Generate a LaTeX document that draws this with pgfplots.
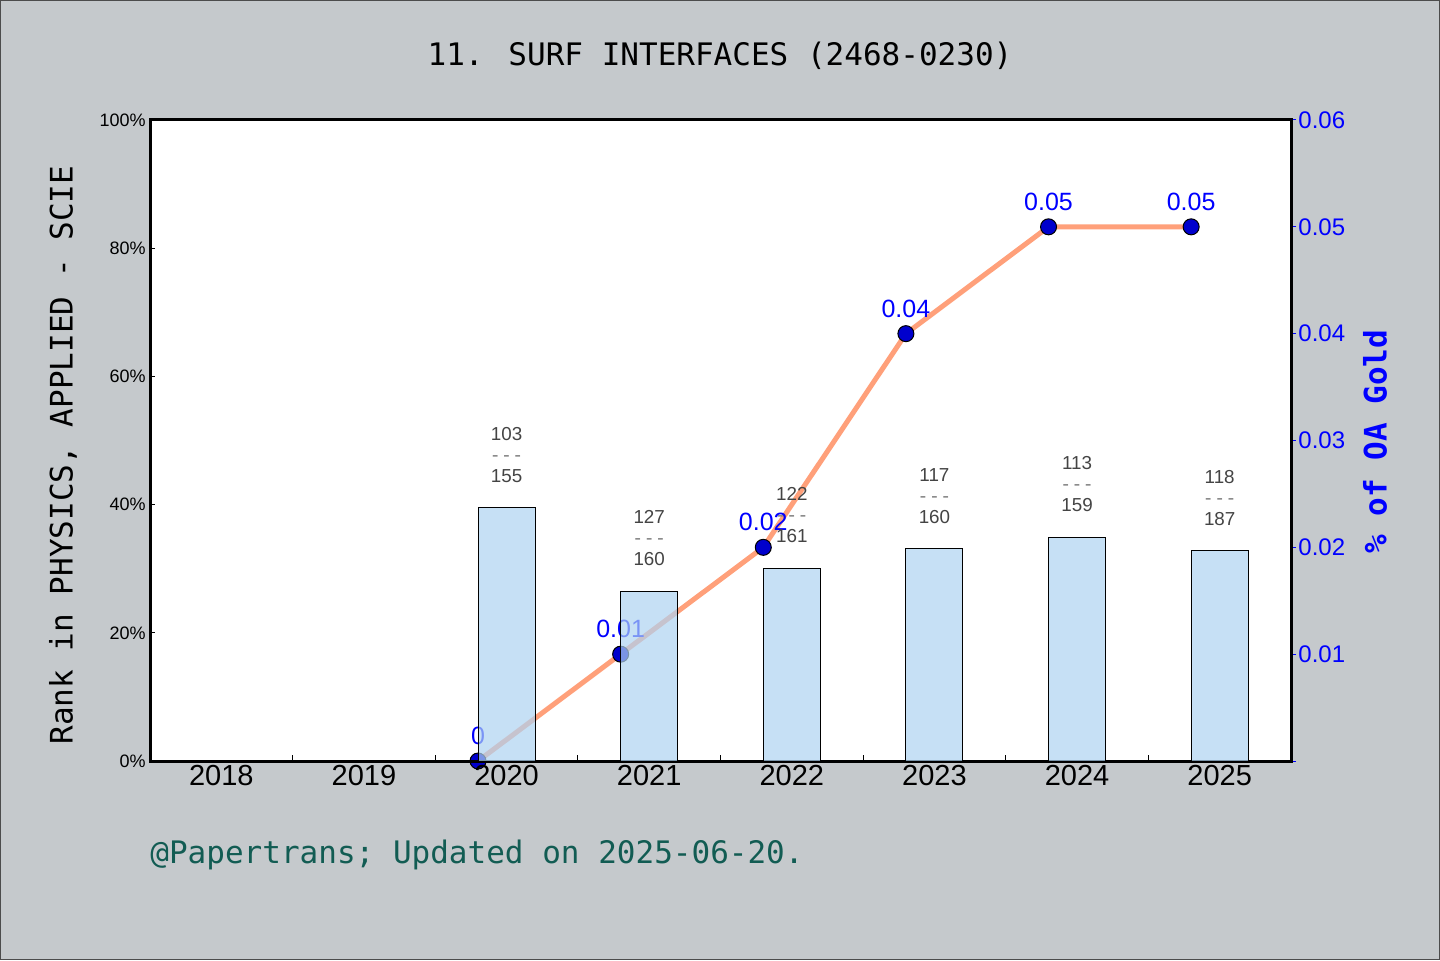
\documentclass[border=0pt]{standalone}
\usepackage{fontspec}
\setmainfont{Liberation Sans}
\newfontfamily\monofont{DejaVu Sans Mono}
\usepackage{pgfplots}
\pgfplotsset{compat=1.18}
\definecolor{bg}{HTML}{C5C9CC}
\definecolor{barfill}{RGB}{174,211,242}
\definecolor{linec}{HTML}{FFA07A}
\definecolor{dotc}{HTML}{0000CD}
\definecolor{foot}{HTML}{125C53}
\definecolor{lab}{HTML}{444444}
\def\barlab#1{\expandafter\barlabi#1\relax}
\def\barlabi#1/#2\relax{#1\\{\monofont\color{gray}-{}-{}-}\\#2}
\begin{document}
\begin{tikzpicture}
\fill[bg] (0,0) rectangle (720pt,480pt);
\draw[black!70, line width=0.6pt] (0.3pt,0.3pt) rectangle (719.7pt,479.7pt);
\node[font=\monofont\fontsize{15.5}{18}\selectfont, anchor=center] at (360pt,452pt) {11. SURF INTERFACES (2468-0230)};
\node[font=\monofont\fontsize{15.5}{18}\selectfont, text=foot, anchor=west, inner sep=0pt] at (75pt,52.5pt) {@Papertrans; Updated on 2025-06-20.};
% right axis: line
\begin{axis}[
  at={(75pt,99.5pt)}, anchor=south west,
  scale only axis, width=570.5pt, height=320.5pt,
  xmin=-0.5, xmax=7.5, ymin=0, ymax=0.06,
  axis x line=none,
  axis y line*=right,
  axis line style={draw=none},
  axis background/.style={fill=white},
  scaled y ticks=false,
  ytick={0,0.01,0.02,0.03,0.04,0.05,0.06},
  yticklabels={,0.01,0.02,0.03,0.04,0.05,0.06},
  ytick style={blue, line width=0.5pt},
  tick align=outside, major tick length=2.5pt,
  yticklabel style={font=\fontsize{12}{12}\selectfont, text=blue, inner sep=1pt},
  ylabel={\% of OA Gold},
  ylabel style={font=\monofont\bfseries\fontsize{15.5}{18}\selectfont, text=blue, at={(axis description cs:1.0736,0.498)}, anchor=center},
  clip=false,
]
\addplot[linec, line width=2.5pt, mark=*, mark size=4pt,
  mark options={fill=dotc, draw=black, line width=0.5pt},
  nodes near coords, point meta=explicit symbolic,
  every node near coord/.append style={font=\fontsize{12.5}{13}\selectfont, text=blue, anchor=center, yshift=12.5pt}]
  coordinates {
  (1.8,0) [0]
  (2.8,0.01) [0.01]
  (3.8,0.02) [0.02]
  (4.8,0.04) [0.04]
  (5.8,0.05) [0.05]
  (6.8,0.05) [0.05]
  };
\end{axis}
% left axis: bars
\begin{axis}[
  at={(75pt,99.5pt)}, anchor=south west,
  scale only axis, width=570.5pt, height=320.5pt,
  xmin=-0.5, xmax=7.5, ymin=0, ymax=100,
  axis line style={line width=1.5pt},
  xtick={0,1,2,3,4,5,6,7},
  xticklabels={2018,2019,2020,2021,2022,2023,2024,2025},
  major x tick style={draw=none},
  minor xtick={0.5,1.5,2.5,3.5,4.5,5.5,6.5},
  minor tick length=3pt,
  tick pos=left, tick align=inside,
  major tick length=2.5pt,
  tick style={black, line width=0.5pt},
  xticklabel style={font=\fontsize{14.5}{15}\selectfont, inner sep=2pt},
  ytick={0,20,40,60,80,100},
  yticklabels={0\%,20\%,40\%,60\%,80\%,100\%},
  yticklabel style={font=\fontsize{9}{10}\selectfont, inner sep=2pt},
  ylabel={Rank in PHYSICS, APPLIED - SCIE},
  ylabel style={font=\monofont\fontsize{15.5}{18}\selectfont, at={(axis description cs:-0.07625,0.477)}, anchor=center},
  clip=false,
]
\addplot[ybar, bar width=0.4, fill=barfill, fill opacity=0.7, draw=black, line width=0.5pt,
  nodes near coords={\barlab{\pgfplotspointmeta}}, point meta=explicit symbolic,
  every node near coord/.append style={font=\fontsize{9.4}{10.5}\selectfont, text=lab, align=center, anchor=center, yshift=26.5pt, fill opacity=1, text opacity=1}]
  coordinates {
  (2,39.5) [103/155]
  (3,26.5) [127/160]
  (4,30.1) [122/161]
  (5,33.1) [117/160]
  (6,34.9) [113/159]
  (7,32.8) [118/187]
  };
\end{axis}
\end{tikzpicture}
\end{document}
